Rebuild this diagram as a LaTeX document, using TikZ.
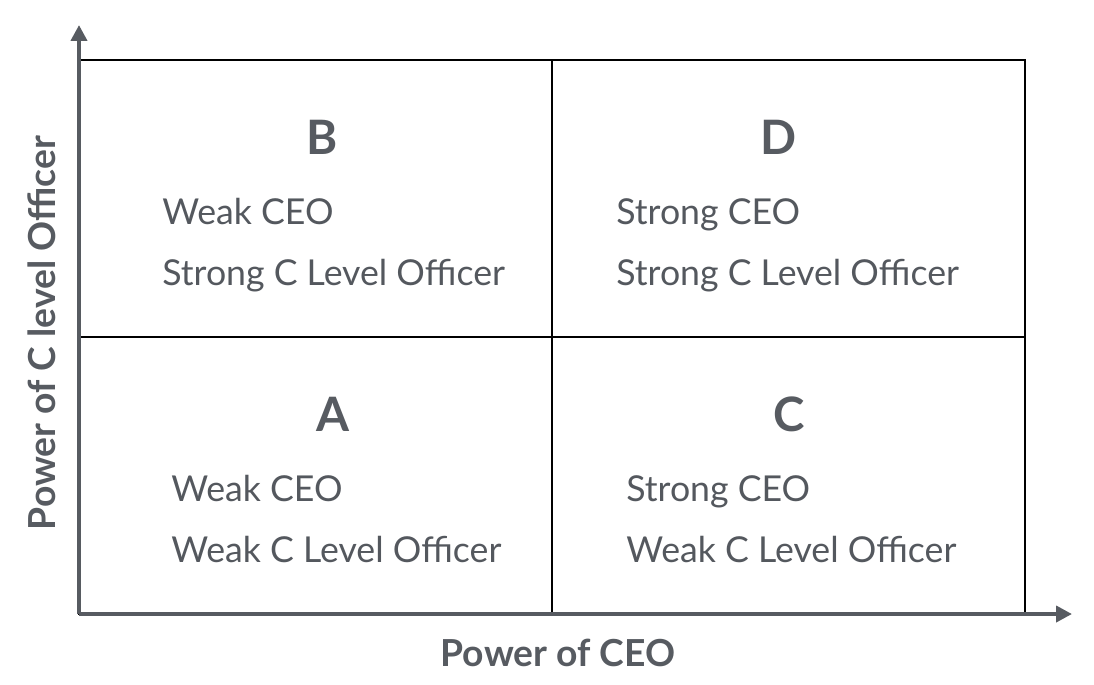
\documentclass[tikz,border=0pt]{standalone}
\usepackage{fontspec}
\setmainfont{Lato}
\usetikzlibrary{arrows.meta}
\definecolor{axisgray}{HTML}{575B61}
\definecolor{textgray}{HTML}{54585E}

\begin{document}
\begin{tikzpicture}[x=0.02cm,y=-0.02cm,
    line/.style={font=\fontsize{20.3}{20.3}\selectfont, text=textgray, anchor=base west, inner sep=0},
    letter/.style={font=\fontsize{27}{27}\selectfont\bfseries, text=axisgray, inner sep=0},
    axislabel/.style={font=\fontsize{21.2}{21.2}\selectfont\bfseries, text=axisgray, inner sep=0}]
    \useasboundingbox (0,0) rectangle (1094,684);

    % Define corners
    \coordinate (O) at (79,614);
    \coordinate (Ytip) at (79,25);
    \coordinate (Xtip) at (1072,614);

    % Quadrant boxes
    \draw[line width=0.6pt] (79,60) rectangle (1025,614);
    \draw[line width=0.6pt] (552,60) -- (552,614);
    \draw[line width=0.6pt] (79,337) -- (1025,337);

    % Axes
    \draw[axisgray, line width=2.2pt, -{Triangle[length=9pt,width=9pt]}] (O) -- (Ytip);
    \draw[axisgray, line width=2.2pt, -{Triangle[length=9pt,width=9pt]}] (O) -- (Xtip);

    \foreach \name/\lx/\ly/\tx/\ty/\ceo/\off in {B/322/137/162/224/Weak/Strong,D/779/137/616/224/Strong/Strong,A/333/414/171/501/Weak/Weak,C/789/414/626/501/Strong/Weak} {
        \node[letter] (L\name) at (\lx,\ly) {\name};
        \node[line] (CEO\name) at (\tx,\ty) {\ceo{} CEO};
        \node[line] (CLO\name) at (\tx,\ty+61) {\off{} C Level Officer};
    }

    \node[axislabel] (xlab) at (558,653) {Power of CEO};
    \node[axislabel, rotate=90] (ylab) at (42,333) {Power of C level Officer};
\end{tikzpicture}
\end{document}
